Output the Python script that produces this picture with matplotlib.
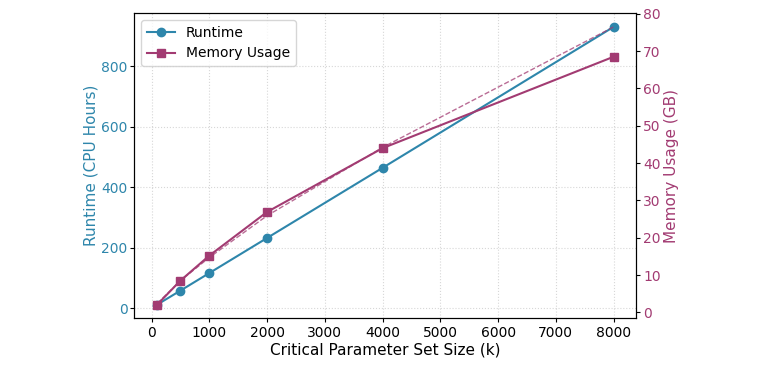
import numpy as np
from matplotlib import pyplot as plt

# set sizes in thousands of critical parameters
sizes = [100, 500, 1000, 2000, 4000, 8000]
runtime = [12, 58, 116, 232, 464, 930]          # CPU hours
memory = [2.1, 8.5, 15.2, 26.9, 44.0, 68.5]     # GB
memory_ref = [2.4, 8.5, 14.7, 25.9, 44.2, 76.5]  # dashed reference curve

c_run = '#2E86AB'
c_mem = '#A23B72'

fig = plt.figure(figsize=(7.64, 3.72), dpi=100)
ax1 = fig.add_axes([0.176, 0.144, 0.657, 0.821])
ax2 = ax1.twinx()

l1, = ax1.plot(sizes, runtime, color=c_run, marker='o', markersize=6,
               linewidth=1.5, label='Runtime')
l2, = ax2.plot(sizes, memory, color=c_mem, marker='s', markersize=6,
               linewidth=1.5, label='Memory Usage')
ax2.plot(sizes, memory_ref, color=c_mem, linestyle='--', linewidth=1,
         alpha=0.75)

ax1.set_xlabel('Critical Parameter Set Size (k)', fontsize=11, labelpad=2)
ax1.set_ylabel('Runtime (CPU Hours)', color=c_run, fontsize=11, labelpad=2)
ax2.set_ylabel('Memory Usage (GB)', color=c_mem, fontsize=11, labelpad=2)
ax1.tick_params(axis='y', labelcolor=c_run, labelsize=10, length=3, pad=2)
ax2.tick_params(axis='y', labelcolor=c_mem, labelsize=10, length=3, pad=2)
ax1.tick_params(axis='x', labelsize=10, length=3, pad=2.5)

ax1.set_xticks(np.arange(0, 8001, 1000))
ax1.set_yticks(np.arange(0, 801, 200))
ax2.set_yticks(np.arange(0, 81, 10))
ax1.grid(True, linestyle=':', alpha=0.5)

ax1.legend([l1, l2], ['Runtime', 'Memory Usage'], loc='upper left',
           fontsize=10)

plt.savefig('out.png', dpi=100)
